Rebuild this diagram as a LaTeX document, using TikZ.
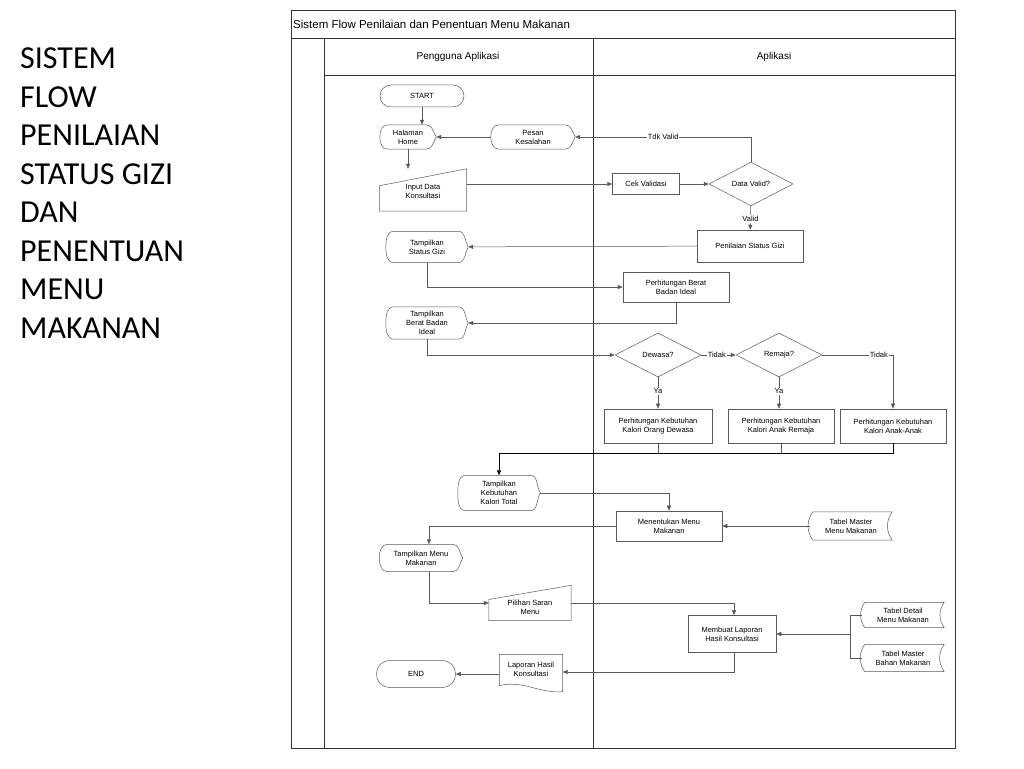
\documentclass[tikz,border=0pt]{standalone}
\usepackage{fontspec}
\setmainfont{Liberation Sans}
\newfontfamily\headfont{Carlito}
\usetikzlibrary{shapes.geometric,arrows.meta,calc}

\tikzset{
  line/.style={draw=black!65, line width=0.5pt},
  arr/.style={line, -{Triangle[length=5pt,width=4pt]}},
  txt/.style={font=\fontsize{7.5}{9}\selectfont, align=center, inner sep=0pt},
  procbox/.style={txt, draw=black!65, line width=0.5pt, rectangle},
  termbox/.style={txt, draw=black!65, line width=0.5pt, rounded corners=11pt},
  decbox/.style={txt, draw=black!65, line width=0.5pt, diamond},
  plainbox/.style={txt, rectangle},
  lbl/.style={txt, fill=white, inner sep=1pt}
}
% outline macros for the special shapes
\newcommand{\dispbox}[1]{%
  \draw[line] ($(#1.north west)+(8,0)$) -- ($(#1.north east)+(-10,0)$)
    to[out=0,in=120] (#1.east) to[out=-120,in=0] ($(#1.south east)+(-10,0)$)
    -- ($(#1.south west)+(8,0)$) to[out=180,in=-90] (#1.west)
    to[out=90,in=180] cycle;}
\newcommand{\manbox}[1]{%
  \draw[line] ($(#1.north west)!0.4!(#1.south west)$) -- (#1.north east)
    -- (#1.south east) -- (#1.south west) -- cycle;}
\newcommand{\docbox}[1]{%
  \draw[line] ($(#1.south west)+(0,4)$) -- (#1.north west) -- (#1.north east)
    -- ($(#1.south east)+(0,-2)$)
    .. controls ($(#1.south)+(8,-4)$) and ($(#1.south)+(-8,10)$) .. ($(#1.south west)+(0,4)$);}
\newcommand{\storebox}[1]{%
  \draw[line] (#1.north east) -- ($(#1.north west)+(3,0)$) to[bend right=35] ($(#1.south west)+(3,0)$)
    -- (#1.south east) to[bend left=35] cycle;}

\begin{document}
\begin{tikzpicture}[x=1pt,y=1pt]
\useasboundingbox (0,0) rectangle (1024,768);
% page title
\node[anchor=north west, align=left, font=\headfont\fontsize{32}{38.5}\selectfont, inner sep=0pt] (pagetitle) at (20,720)
  {SISTEM\\FLOW\\PENILAIAN\\STATUS GIZI\\DAN\\PENENTUAN\\MENU\\MAKANAN};

% swimlane frame
\draw[black!80, line width=0.6pt] (291,20) rectangle (955,758);
\draw[black!80, line width=0.6pt] (291,730) -- (955,730);
\draw[black!80, line width=0.6pt] (324,693) -- (955,693);
\draw[black!80, line width=0.6pt] (324,730) -- (324,20);
\draw[black!80, line width=0.6pt] (593,730) -- (593,20);
\node[anchor=west, font=\fontsize{11.5}{13}\selectfont, inner sep=0pt] (lanetitle) at (293,744) {Sistem Flow Penilaian dan Penentuan Menu Makanan};
\node[font=\fontsize{10}{12}\selectfont] (laneuser) at (458,711) {Pengguna Aplikasi};
\node[font=\fontsize{10}{12}\selectfont] (laneapp) at (774,711) {Aplikasi};

% nodes
\node[termbox, minimum width=84, minimum height=22] (start) at (422,672) {START};
\node[plainbox, minimum width=56, minimum height=24] (home) at (408,631) {Halaman\\Home};
\node[plainbox, minimum width=84, minimum height=24] (pesan) at (533,631) {Pesan\\Kesalahan};
\node[plainbox, minimum width=87, minimum height=42] (input) at (423,578) {\\Input Data\\Konsultasi};
\node[procbox, minimum width=67, minimum height=21] (cek) at (646,584) {Cek Validasi};
\node[decbox, minimum width=84, minimum height=34] (valid) at (751,584) {Data Valid?};
\node[procbox, minimum width=106, minimum height=32] (nilai) at (750,522) {Penilaian Status Gizi};
\node[plainbox, minimum width=82, minimum height=31] (tstatus) at (427,521) {Tampilkan\\Status Gizi};
\node[procbox, minimum width=106, minimum height=30] (bbi) at (676,481) {Perhitungan Berat\\Badan Ideal};
\node[plainbox, minimum width=82, minimum height=32] (tbbi) at (427,445) {Tampilkan\\Berat Badan\\Ideal};
\node[decbox, minimum width=86, minimum height=44] (dewasa) at (658,413) {Dewasa?};
\node[decbox, minimum width=86, minimum height=44] (remaja) at (779,413) {\strut Remaja?};
\node[procbox, minimum width=108, minimum height=34] (kdewasa) at (658,342) {Perhitungan Kebutuhan\\Kalori Orang Dewasa};
\node[procbox, minimum width=106, minimum height=34] (kremaja) at (781,342) {Perhitungan Kebutuhan\\Kalori Anak Remaja};
\node[procbox, minimum width=106, minimum height=34] (kanak) at (893,342) {Perhitungan Kebutuhan\\Kalori Anak-Anak};
\node[plainbox, minimum width=82, minimum height=35] (tkalori) at (499,275) {Tampilkan\\Kebutuhan\\Kalori Total};
\node[procbox, minimum width=106, minimum height=30] (menu) at (669,242) {Menentukan Menu\\Makanan};
\node[plainbox, minimum width=82, minimum height=28] (tmmenu) at (851,242) {Tabel Master\\Menu Makanan};
\node[plainbox, minimum width=83, minimum height=27] (tmenu) at (421,210) {Tampilkan Menu\\Makanan};
\node[plainbox, minimum width=82, minimum height=35] (pilih) at (530,165) {};
\node[txt] (pilihtext) at (530,161) {Pilihan Saran\\Menu};
\node[procbox, minimum width=88, minimum height=37] (laporan) at (732,134) {Membuat Laporan\\Hasil Konsultasi};
\node[plainbox, minimum width=82, minimum height=25] (tdmenu) at (903,153) {Tabel Detail\\Menu Makanan};
\node[plainbox, minimum width=82, minimum height=27] (tmbahan) at (903,110) {Tabel Master\\Bahan Makanan};
\node[plainbox, minimum width=63, minimum height=35] (dochasil) at (531,96) {};
\node[txt] (doctext) at (531,99) {Laporan Hasil\\Konsultasi};
\node[termbox, minimum width=79, minimum height=27, rounded corners=13pt] (end) at (416,94) {END};

\dispbox{home}
\dispbox{pesan}
\dispbox{tstatus}
\dispbox{tbbi}
\dispbox{tkalori}
\dispbox{tmenu}
\manbox{input}
\manbox{pilih}
\docbox{dochasil}
\storebox{tmmenu}
\storebox{tdmenu}
\storebox{tmbahan}

% connectors
\draw[arr] (start.south) -- (start.south |- home.north);
\draw[arr] (pesan) -- (home);
\draw[arr] (valid.north) |- node[lbl, pos=0.75] {Tdk Valid} (pesan.east);
\draw[arr] (home.south) -- (home.south |- input.north west);
\draw[arr] (input.east |- cek.west) -- (cek.west);
\draw[arr] (cek) -- (valid);
\draw[arr] (valid) -- node[lbl, pos=0.55] {Valid} (nilai);
\draw[arr] (nilai) -- (tstatus);
\draw[arr] (tstatus.south) |- (bbi.west);
\draw[arr] (bbi.south) |- (tbbi.east);
\draw[arr] (tbbi.south) |- (dewasa.west);
\draw[arr] (dewasa) -- node[lbl, pos=0.45] {Tidak} (remaja);
\draw[arr] (remaja.east) -| node[lbl, pos=0.4] {Tidak} (kanak.north);
\draw[arr] (dewasa) -- node[lbl, pos=0.45] {Ya} (kdewasa);
\draw[arr] (remaja.south) -- node[lbl, pos=0.45] {Ya} (remaja.south |- kremaja.north);
\coordinate (join) at (499,315);
\draw[line] (kdewasa.south) -- (kdewasa.south |- join);
\draw[line] (kremaja.south) -- (kremaja.south |- join);
\draw[black, line width=0.8pt, -{Triangle[length=5pt,width=4pt]}] (kanak.south) |- (join) -- (tkalori.north);
\draw[arr] (tkalori.east) -| (menu.north);
\draw[arr] (tmmenu) -- (menu);
\draw[arr] (menu.west) -| ($(tmenu.north)+(8,0)$);
\draw[arr] ($(tmenu.south)+(8,0)$) |- (pilih.west);
\draw[arr] (pilih.east) -| ($(laporan.north)+(2,0)$);
\coordinate (bus) at (850,134);
\draw[line] (tdmenu.west) -| (bus) |- (tmbahan.west);
\draw[arr] (bus) -- (laporan.east);
\draw[arr] ($(laporan.south)+(2,0)$) |- (dochasil.east);
\draw[arr] (dochasil.west |- end.east) -- (end.east);
\end{tikzpicture}
\end{document}
